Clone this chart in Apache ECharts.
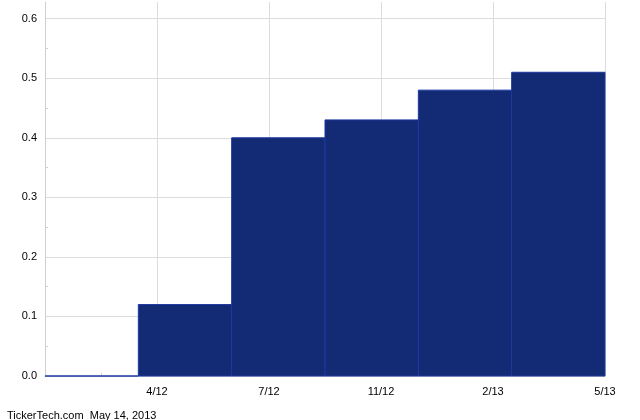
<!DOCTYPE html>
<html>
<head>
<meta charset="utf-8">
<script src="https://cdn.jsdelivr.net/npm/echarts@6/dist/echarts.min.js"></script>
<style>html,body{margin:0;padding:0;background:#fff}#c{width:640px;height:420px}</style>
</head>
<body>
<div id="c"></div>
<script>
// Quarterly step values (each step spans one quarter)
var stepIndex = [0, 1, 2, 3, 4, 5];
var values = [0.0, 0.12, 0.40, 0.43, 0.48, 0.51];
var xTickLabels = ['', '4/12', '7/12', '11/12', '2/13', '5/13'];
var yTickStep = 0.1;
var footer = 'TickerTech.com  May 14, 2013';

var data = stepIndex.map(function (s, i) { return [s, s + 1, values[i]]; });

var chart = echarts.init(document.getElementById('c'), null, {renderer: 'canvas'});
chart.setOption({
  animation: false,
  backgroundColor: '#fff',
  title: {
    text: footer, left: 2, top: 405,
    textStyle: {fontFamily: 'Liberation Sans, Arial, sans-serif', fontSize: 11, fontWeight: 'normal', color: '#000'}
  },
  grid: {left: 45, right: 35, top: 2, bottom: 44, containLabel: false},
  xAxis: {
    type: 'value', min: 0, max: 6, interval: 1.2,
    axisLine: {show: true, lineStyle: {color: '#d0d0d0'}},
    axisTick: {show: false, inside: true},
    minorTick: {show: true, splitNumber: 2, length: 3, lineStyle: {color: '#d0d0d0'}},
    splitLine: {show: true, lineStyle: {color: '#dcdcdc', width: 1}},
    axisLabel: {
      margin: 10, color: '#000', fontSize: 11, fontFamily: 'Liberation Sans, Arial, sans-serif',
      formatter: function (v) { return xTickLabels[Math.round(v / 1.2)] || ''; }
    }
  },
  yAxis: {
    type: 'value', min: 0, max: 0.628, interval: yTickStep,
    axisLine: {show: true, lineStyle: {color: '#d0d0d0'}},
    axisTick: {show: false, inside: true},
    minorTick: {show: true, splitNumber: 2, length: 3, lineStyle: {color: '#d0d0d0'}},
    splitLine: {show: true, showMaxLine: false, lineStyle: {color: '#dcdcdc', width: 1}},
    axisLabel: {
      margin: 8, color: '#000', fontSize: 11, fontFamily: 'Liberation Sans, Arial, sans-serif',
      showMaxLabel: false,
      formatter: function (v) { return Math.abs(v / yTickStep - Math.round(v / yTickStep)) < 1e-6 ? v.toFixed(1) : ''; }
    }
  },
  series: [{
    type: 'custom',
    data: data,
    encode: {x: [0, 1], y: 2},
    renderItem: function (params, api) {
      var p0 = api.coord([api.value(0), api.value(2)]);
      var p1 = api.coord([api.value(1), 0]);
      return {
        type: 'rect',
        shape: {x: p0[0], y: p0[1], width: p1[0] - p0[0], height: p1[1] - p0[1]},
        style: {fill: '#132a75', stroke: '#1d38a0', lineWidth: 1}
      };
    }
  }]
});
</script>
</body>
</html>
